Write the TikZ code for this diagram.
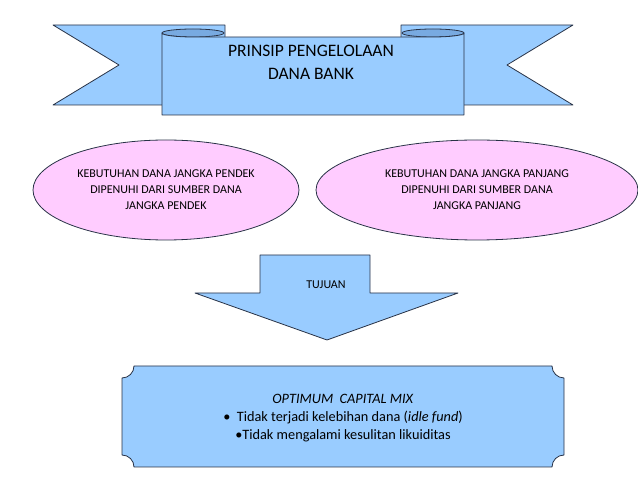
\documentclass[tikz,border=0pt]{standalone}
\usepackage{fontspec}
\setmainfont{Carlito}
\usetikzlibrary{shapes.geometric}
\definecolor{bl}{RGB}{153,204,255}
\definecolor{dbl}{RGB}{120,170,225}
\definecolor{pk}{RGB}{255,204,255}
\definecolor{ln}{RGB}{40,50,70}
\tikzset{shp/.style={draw=ln,line width=0.8pt,line join=round},
 txt/.style={align=center,font=\fontsize{12}{16}\selectfont,inner sep=0pt}}
\begin{document}
\begin{tikzpicture}[x=1pt,y=-1pt]
\useasboundingbox (0,0) rectangle (638,478);
% ribbon tails
\draw[shp,fill=bl] (53,25) -- (225,25) -- (225,105) -- (53,105) -- (119,65) -- cycle;
\draw[shp,fill=bl] (573,25) -- (401,25) -- (401,105) -- (573,105) -- (507,65) -- cycle;
\draw[shp,fill=dbl] (193,33) ellipse (31 and 4);
\draw[shp,fill=dbl] (433,33) ellipse (31 and 4);
% center banner
\draw[shp,fill=bl] (162,33) arc[start angle=180,end angle=90,x radius=31,y radius=4] -- (433,37) arc[start angle=90,end angle=0,x radius=31,y radius=4] -- (464,115) -- (162,115) -- cycle;
\node[txt,font=\fontsize{17.5}{23}\selectfont] (title) at (311,62) {PRINSIP PENGELOLAAN\\DANA BANK};
% ellipses
\node[shp,fill=pk,ellipse,minimum width=266pt,minimum height=100pt,inner sep=0pt] (e1) at (166,190) {};
\node[txt] at (e1) {KEBUTUHAN DANA JANGKA PENDEK\\DIPENUHI DARI SUMBER DANA\\JANGKA PENDEK};
\node[shp,fill=pk,ellipse,minimum width=322pt,minimum height=100pt,inner sep=0pt] (e2) at (477,190) {};
\node[txt] at (e2) {KEBUTUHAN DANA JANGKA PANJANG\\DIPENUHI DARI SUMBER DANA\\JANGKA PANJANG};
% arrow
\draw[shp,fill=bl] (260,255) -- (370,255) -- (370,293) -- (458,293) -- (327,340) -- (195,293) -- (260,293) -- cycle;
\node[txt] (tuj) at (326,285) {TUJUAN};
% bottom box
\draw[shp,fill=bl] (134,366) -- (552,366) arc[start angle=180,end angle=90,radius=12] -- (564,455) arc[start angle=270,end angle=180,radius=12] -- (134,467) arc[start angle=0,end angle=-90,radius=12] -- (122,378) arc[start angle=90,end angle=0,radius=12] -- cycle;
\node[txt,font=\fontsize{14.3}{18}\selectfont] (goal) at (343,418) {\textit{OPTIMUM\ \ CAPITAL MIX}\\
\textbullet\ \ Tidak terjadi kelebihan dana (\textit{idle fund})\\
\textbullet Tidak mengalami kesulitan likuiditas};
\end{tikzpicture}
\end{document}
